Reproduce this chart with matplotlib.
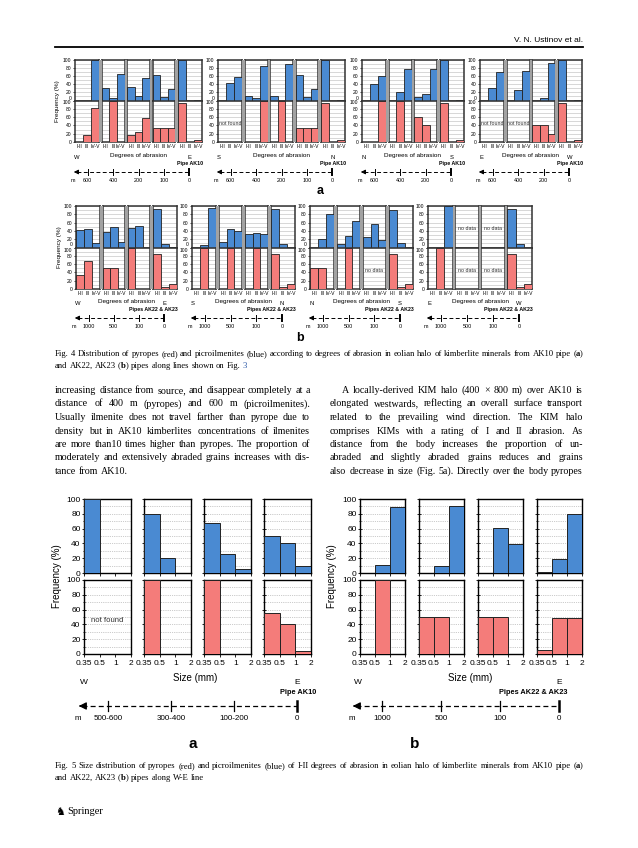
import re
import numpy as np
import matplotlib
matplotlib.use('Agg')
import matplotlib.pyplot as plt
from matplotlib.patches import Rectangle
from matplotlib.ticker import MultipleLocator

W, H = 638, 848
BLUE = '#4a8ad2'
RED = '#f47c7a'
SANS = 'Liberation Sans'
SERIF = 'Liberation Serif'
plt.rcParams['font.family'] = SANS

abrasion = ['I-II', 'III', 'IV-V']
sizes = ['0.35', '0.5', '1', '2']

# Fig. 4a - AK10, one list per profile, one triple (I-II, III, IV-V) per point
ak10_blue = [
    [[0, 0, 100], [30, 6, 65], [33, 11, 56], [63, 9, 28], [100, 0, 1]],
    [[0, 42, 57], [10, 5, 86], [11, 0, 89], [63, 9, 28], [100, 0, 1]],
    [[0, 40, 60], [0, 22, 78], [8, 15, 78], [100, 0, 1]],
    [[0, 30, 70], [0, 27, 73], [0, 6, 93], [100, 0, 1]],
]
ak10_red = [
    [[0, 17, 83], [0, 100, 0], [17, 25, 58], [34, 33, 33], [95, 0, 4]],
    [None, [0, 0, 100], [0, 100, 0], [34, 33, 33], [95, 0, 4]],
    [[0, 0, 100], [0, 100, 0], [60, 40, 0], [95, 0, 4]],
    [None, None, [40, 40, 20], [95, 0, 4]],
]
ak10_dist = [['600', '400', '200', '100', '0'], ['600', '400', '200', '100', '0'],
             ['600', '400', '200', '0'], ['600', '400', '200', '0']]
profile_dirs = [('W', 'E'), ('S', 'N'), ('N', 'S'), ('E', 'W')]

# Fig. 4b - AK22 & AK23
ak22_blue = [
    [[42, 45, 11], [38, 50, 13], [48, 52, 0], [92, 8, 1]],
    [[0, 6, 94], [14, 45, 40], [33, 35, 32], [92, 9, 0]],
    [[0, 20, 80], [8, 27, 64], [25, 57, 18], [91, 10, 0]],
    [[0, 0, 100], None, None, [92, 9, 0]],
]
ak22_red = [
    [[33, 67, 0], [50, 50, 0], [100, 0, 0], [84, 4, 12]],
    [[0, 100, 0], [0, 100, 0], [0, 100, 0], [84, 4, 12]],
    [[50, 50, 0], [0, 100, 0], None, [84, 4, 12]],
    [[0, 100, 0], None, None, [84, 4, 12]],
]
ak22_dist = ['1000', '500', '100', '0']

# Fig. 5 - size classes 0.35-0.5, 0.5-1, 1-2 mm
size_a_blue = [[100, 0, 0], [80, 20, 0], [68, 26, 6], [50, 40, 10]]
size_a_red = [None, [100, 0, 0], [100, 0, 0], [55, 41, 4]]
size_a_dist = ['500-600', '300-400', '100-200', '0']
size_b_blue = [[0, 11, 89], [0, 9, 91], [0, 61, 39], [1, 19, 80]]
size_b_red = [[0, 100, 0], [50, 50, 0], [50, 50, 0], [5, 48, 48]]
size_b_dist = ['1000', '500', '100', '0']

cap4 = ['**Fig. 4**  Distribution of pyropes (red) and picroilmenites (blue) according to degrees of abrasion in eolian halo of kimberlite minerals from AK10 pipe (**a**)',
        'and AK22, AK23 (**b**) pipes along lines shown on Fig. {3}']
cap5 = ['**Fig. 5**  Size distribution of pyropes (red) and picroilmenites (blue) of I-II degrees of abrasion in eolian halo of kimberlite minerals from AK10 pipe (**a**)',
        'and AK22, AK23 (**b**) pipes along W-E line']
left_col = ['increasing distance from source, and disappear completely at a',
            'distance of 400 m (pyropes) and 600 m (picroilmenites).',
            'Usually ilmenite does not travel farther than pyrope due to',
            'density but in AK10 kimberlites concentrations of ilmenites',
            'are more than10 times higher than pyropes. The proportion of',
            'moderately and extensively abraded grains increases with dis-',
            'tance from AK10.']
right_col = ['A locally-derived KIM halo (400 \u00d7 800 m) over AK10 is',
             'elongated westwards, reflecting an overall surface transport',
             'related to the prevailing wind direction. The KIM halo',
             'comprises KIMs with a rating of I and II abrasion. As',
             'distance from the body increases the proportion of un-',
             'abraded and slightly abraded grains reduces and grains',
             'also decrease in size (Fig. 5a). Directly over the body pyropes']


fig = plt.figure(figsize=(W / 100, H / 100), dpi=100)
page = fig.add_axes([0, 0, 1, 1], zorder=10)
page.set_xlim(0, W)
page.set_ylim(H, 0)
page.axis('off')
rend = fig.canvas.get_renderer()


def box(x0, y0, x1, y1):
    return fig.add_axes([x0 / W, 1 - y1 / H, (x1 - x0) / W, (y1 - y0) / H])


def put(x, y, s, size, ha='left', va='center', **kw):
    kw.setdefault('family', SANS)
    return page.text(x, y, s, fontsize=size, ha=ha, va=va, **kw)


def distance_bar(xa, xs, y, labels, ly, size, th=3.0, lw=0.7):
    xe = xs[-1]
    page.plot([xa + 6, xe], [y, y], color='k', lw=lw, ls=(0, (4, 2.5)))
    page.annotate('', xy=(xa, y), xytext=(xa + 8, y),
                  arrowprops=dict(arrowstyle='-|>', color='k', lw=lw, mutation_scale=th * 2.2))
    for i, (x, lab) in enumerate(zip(xs, labels)):
        last = i == len(xs) - 1
        page.plot([x, x], [y - th, y + th], color='k', lw=lw * (2 if last else 1))
        put(x, ly, lab, size, ha='center')
    put(xa + 2, ly, 'm', size, ha='center')


def split_zero_hundred(ax, bottom):
    # keep the "0" of the upper panel and the "100" of the lower one apart
    for lab in ax.get_yticklabels():
        if lab.get_text() == '0' and not bottom:
            lab.set_va('bottom')
        if lab.get_text() == '100' and bottom:
            lab.set_va('top')


def abrasion_group(x0, x1, rows, blue, red, dirs, pipe, dist, missing, ylabel, ty):
    ytop, ymid, ybot = rows
    n = len(blue)
    w = (x1 - x0) / n
    g = 1.3
    centers = [x0 + (i + 0.5) * w for i in range(n)]
    for i in range(n):
        xa = x0 + i * w + (g if i else 0)
        xb = x0 + (i + 1) * w - (g if i < n - 1 else 0)
        for vals, col, ya, yb, bottom in ((blue, BLUE, ytop, ymid, False), (red, RED, ymid, ybot, True)):
            ax = box(xa, ya, xb, yb)
            if vals[i] is not None:
                ax.bar(range(3), vals[i], width=1, color=col, edgecolor='#222222', lw=0.6, zorder=3)
            else:
                ax.text(0.5, 0.45, missing, transform=ax.transAxes, ha='center', va='center',
                        fontsize=3.9, color='#333333', clip_on=False, zorder=5)
            ax.set_xlim(-0.5, 2.5)
            ax.set_ylim(0, 100)
            ax.yaxis.set_major_locator(MultipleLocator(20))
            ax.yaxis.set_minor_locator(MultipleLocator(10))
            ax.grid(axis='y', which='both', color='#c8c8c8', lw=0.5)
            ax.set_axisbelow(True)
            for s in ax.spines.values():
                s.set_linewidth(1.1)
                s.set_color('#333333')
            ax.tick_params(axis='y', which='major', length=1.5 if i == 0 else 0,
                           labelleft=(i == 0), labelsize=3.6, pad=1, width=0.5)
            ax.tick_params(axis='y', which='minor', length=0)
            if i == 0:
                ax.set_yticks(range(0, 101, 20))
                ax.set_yticklabels([str(v) for v in range(0, 101, 20)])
                split_zero_hundred(ax, bottom)
            if bottom:
                ax.set_xticks(range(3))
                ax.set_xticklabels(abrasion, fontsize=3.6)
                ax.tick_params(axis='x', length=0, pad=1.5)
            else:
                ax.set_xticks([])
        if i:
            page.add_patch(Rectangle((x0 + i * w - g, ytop), 2 * g, ybot - ytop, color='#a2a2a2', lw=0))
    if ylabel:
        put(x0 - 17, (ytop + ybot) / 2, 'Frequency (%)', 4.6, ha='center', rotation=90)
    t_deg, t_dir, t_pipe, t_arr, t_m = ty
    put((x0 + x1) / 2, t_deg, 'Degrees of abrasion', 4.6, ha='center')
    put(x0 - 1, t_dir, dirs[0], 4.2)
    put(centers[-1], t_dir, dirs[1], 4.2, ha='center')
    put(x1 + 1, t_pipe, pipe, 3.8, ha='right', weight='bold')
    distance_bar(x0 - 4, centers, t_arr, dist, t_m, 3.9)


def size_group(x0, pw, step, rows, blue, red, missing):
    ytop, ybot1, ytop2, ybot = rows
    for i in range(len(blue)):
        xa = x0 + i * step
        for vals, col, ya, yb, bottom in ((blue, BLUE, ytop, ybot1, False), (red, RED, ytop2, ybot, True)):
            ax = box(xa, ya, xa + pw, yb)
            if vals[i] is not None:
                ax.bar(np.arange(3) + 0.5, vals[i], width=1, color=col, edgecolor='#222222', lw=0.7, zorder=3)
            else:
                ax.text(0.5, 0.45, missing, transform=ax.transAxes, ha='center', va='center',
                        fontsize=5.6, color='#333333', zorder=5)
            ax.set_xlim(0, 3)
            ax.set_ylim(0, 100)
            ax.yaxis.set_major_locator(MultipleLocator(20))
            ax.yaxis.set_minor_locator(MultipleLocator(10))
            ax.grid(axis='y', which='both', color='#9a9a9a', lw=0.5, ls=':')
            ax.set_axisbelow(True)
            for s in ax.spines.values():
                s.set_linewidth(1.0)
            ax.tick_params(axis='y', which='both', direction='inout', length=3, width=0.6,
                           labelleft=(i == 0), labelsize=6, pad=1)
            ax.tick_params(axis='y', which='minor', length=2)
            ax.set_xticks(range(4))
            ax.tick_params(axis='x', direction='out', length=2, width=0.6, pad=2, labelsize=6)
            if bottom:
                ax.set_xticklabels(sizes)
            else:
                ax.set_xticklabels([])


# text helpers: **bold**, {blue}
TOKEN = re.compile(r'\*\*(.+?)\*\*|\{(.+?)\}|([^*{}]+)')


def segments(word):
    out = []
    for b, c, n in TOKEN.findall(word):
        if b:
            out.append((b, dict(weight='bold')))
        elif c:
            out.append((c, dict(color='#2b59a8')))
        else:
            out.append((n, {}))
    return out


def seg_width(s, size, kw):
    t = page.text(0, 0, s, fontsize=size, family=SERIF, **kw)
    wd = t.get_window_extent(rend).width
    t.remove()
    return wd


def natural_width(line, size):
    words = [segments(w) for w in line.split()]
    sp = seg_width('a b', size, {}) - seg_width('ab', size, {})
    return sum(seg_width(s, size, kw) for w in words for s, kw in w) + sp * (len(words) - 1)


def fit_size(lines, width, fill=0.97):
    return 10 * fill * width / max(natural_width(l, 10) for l in lines)


def text_line(x0, x1, y, line, size, justify=True, indent=0):
    words = [segments(w) for w in line.split()]
    widths = [[seg_width(s, size, kw) for s, kw in w] for w in words]
    total = sum(sum(ws) for ws in widths)
    if justify and len(words) > 1:
        gap = (x1 - x0 - indent - total) / (len(words) - 1)
    else:
        gap = seg_width('a b', size, {}) - seg_width('ab', size, {})
    x = x0 + indent
    for w, ws in zip(words, widths):
        for (s, kw), wd in zip(w, ws):
            page.text(x, y, s, fontsize=size, family=SERIF, ha='left', va='baseline', **kw)
            x += wd
        x += gap


# header
put(583, 41, 'V. N. Ustinov et al.', 6.0, ha='right')
page.plot([55, 583], [47, 47], color='k', lw=1.3)

# Fig. 4a
rows_a = (60, 100.5, 142)
ty_a = (155, 157.5, 164, 172, 180)
for k, (xx, blue, red, dirs, dist) in enumerate(zip([(75, 202), (218, 345), (362, 464), (480, 582)],
                                                    ak10_blue, ak10_red, profile_dirs, ak10_dist)):
    abrasion_group(xx[0], xx[1], rows_a, blue, red, dirs, 'Pipe AK10', dist, 'not found', k == 0, ty_a)
put(320, 191, 'a', 9, ha='center', weight='bold')

# Fig. 4b
rows_b = (206, 247.5, 289)
ty_b = (301, 303.5, 309, 318, 326)
for k, (xx, blue, red, dirs) in enumerate(zip([(76, 177), (192, 295), (310, 413), (428, 532)],
                                               ak22_blue, ak22_red, profile_dirs)):
    abrasion_group(xx[0], xx[1], rows_b, blue, red, dirs, 'Pipes AK22 & AK23', ak22_dist, 'no data', k == 0, ty_b)
put(300, 338, 'b', 9, ha='center', weight='bold')

# captions and body text
CAP = fit_size([cap4[0], cap5[0]], 528, 0.99)
BODY = fit_size(left_col[:-1] + right_col[1:], 255, 0.99)
text_line(55, 583, 356, cap4[0], CAP)
text_line(55, 583, 368, cap4[1], CAP, justify=False)
for i, line in enumerate(left_col):
    text_line(55, 310, 393 + 13.5 * i, line, BODY, justify=(i < len(left_col) - 1))
for i, line in enumerate(right_col):
    text_line(330, 583, 393 + 13.5 * i, line, BODY, indent=(12 if i == 0 else 0))

# Fig. 5
rows5 = (499, 573, 580, 654)
size_group(84, 47, 60, rows5, size_a_blue, size_a_red, 'not found')
size_group(360, 45, 59, rows5, size_b_blue, size_b_red, 'not found')
for x0, xc, xs, dist, pipe, px, xt in ((84, 57, 195, size_a_dist, 'Pipe AK10', 298, np.linspace(108, 297, 4)),
                                       (360, 332, 470, size_b_dist, 'Pipes AK22 & AK23', 533, np.linspace(382, 559, 4))):
    put(xc, (rows5[0] + rows5[3]) / 2, 'Frequency (%)', 7, ha='center', rotation=90)
    put(xs, 678, 'Size (mm)', 7, ha='center')
    put(xt[0] - 28, 682, 'W', 6)
    put(xt[-1], 682, 'E', 6, ha='center')
    put(px, 692.5, pipe, 5.3, ha='center', weight='bold')
    distance_bar(xt[0] - 32, xt, 706, dist, 719, 5.8, th=5, lw=0.9)
put(193, 744, 'a', 11, ha='center', weight='bold')
put(415, 744, 'b', 11, ha='center', weight='bold')

text_line(55, 583, 768, cap5[0], CAP)
text_line(55, 583, 780, cap5[1], CAP, justify=False)

# publisher mark
put(55, 812, '\u265e', 8, family='DejaVu Sans')
put(67, 812, 'Springer', 7.5, family=SERIF)

fig.savefig('out.png', dpi=100)
